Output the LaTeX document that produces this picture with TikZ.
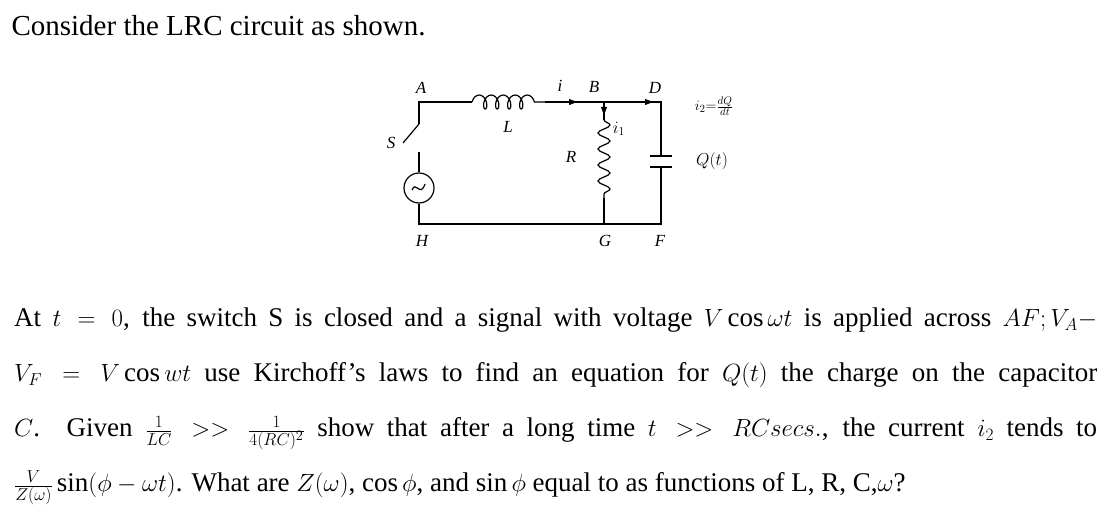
\documentclass[tikz,border=0pt]{standalone}
\usepackage{fontspec}
\setmainfont{Liberation Serif}
\usetikzlibrary{decorations.pathmorphing,arrows.meta,calc}
\begin{document}
\begin{tikzpicture}[x=1pt,y=-1pt,
  wire/.style={line width=1.2pt},
  lab/.style={font=\fontsize{17}{17}\selectfont\itshape},
  mid/.style={-{Triangle[length=8pt,width=6pt]}}]
\useasboundingbox (0,0) rectangle (1107,529);
\node[anchor=west,font=\fontsize{29}{32}\selectfont] (title) at (8,26) {Consider the LRC circuit as shown.};
% coordinates
\coordinate (A) at (419,102);
\coordinate (Lb) at (472,102);
\coordinate (Le) at (545,102);
\coordinate (B) at (604,102);
\coordinate (D) at (661,102);
\coordinate (Sw) at (419,124);
\coordinate (Sb) at (403,143);
\coordinate (Ss) at (419,152);
\node[circle,draw,line width=1.2pt,minimum size=30pt,inner sep=0] (src) at (419,188) {};
\coordinate (H) at (419,224);
\coordinate (G) at (604,224);
\coordinate (F) at (661,224);
\coordinate (Rt) at (604,120);
\coordinate (Rb) at (604,198);
\coordinate (C1) at (661,156);
\coordinate (C2) at (661,167);
\draw[wire] (Sw) -- (A) -- (Lb);
\draw[wire] (Sw) -- (Sb);
\draw[wire] (Ss) -- (src.north);
\draw[wire] (src.south) -- (H) -- (G) -- (F) -- (C2);
\draw[wire] (C1) -- (D) -- (B) -- (Le);
\draw[wire,decorate,decoration={coil,aspect=0.6,segment length=12pt,amplitude=7pt}] (Lb) -- (Le);
\draw[wire,decorate,decoration={snake,segment length=16pt,amplitude=6pt}] (Rt) -- (Rb);
\draw[wire] (B) -- (Rt);
\draw[wire] (Rb) -- (G);
\draw[wire] ($(C1)+(-11,0)$) -- ($(C1)+(11,0)$);
\draw[wire] ($(C2)+(-11,0)$) -- ($(C2)+(11,0)$);
\draw[line width=1.2pt] (412,190) .. controls (416,180) and (420,198) .. (425,184);
\draw[mid] (545,102) -- (577,102);
\draw[mid] (604,102) -- (653,102);
\draw[mid] (604,102) -- (604,115);
% labels
\node[lab] (lA) at (421,88) {A};
\node[lab] (lB) at (594,87) {B};
\node[lab] (lD) at (655,88) {D};
\node[lab] (li) at (560,86) {i};
\node[lab] (lL) at (508,127) {L};
\node[lab] (lS) at (391,143) {S};
\node[lab] (lR) at (571,157) {R};
\node[lab] (li1) at (619,129) {$i_1$};
\node[lab] (lH) at (422,241) {H};
\node[lab] (lG) at (605,241) {G};
\node[lab] (lF) at (660,241) {F};
\node[lab] (lQ) at (712,161) {$Q(t)$};
\node[font=\fontsize{15}{15}\selectfont] (li2) at (714,106) {$i_2{=}\frac{dQ}{dt}$};
\node[anchor=north west,text width=1083pt,align=justify,inner sep=0,font=\fontsize{27}{55}\selectfont] (body) at (14,308)
{At $t=0$, the switch S is closed and a signal with voltage $V\cos\omega t$ is applied across $AF; V_A -$\linebreak $V_F = V\cos wt$ use Kirchoff's laws to find an equation for $Q(t)$ the charge on the capacitor\linebreak $C$. Given $\frac{1}{LC} >> \frac{1}{4(RC)^2}$ show that after a long time $t >> RCsecs.$, the current $i_2$ tends to\linebreak $\frac{V}{Z(\omega)}\sin(\phi-\omega t)$. What are $Z(\omega)$, $\cos\phi$, and $\sin\phi$ equal to as functions of L, R, C,$\omega$?};
\end{tikzpicture}
\end{document}
